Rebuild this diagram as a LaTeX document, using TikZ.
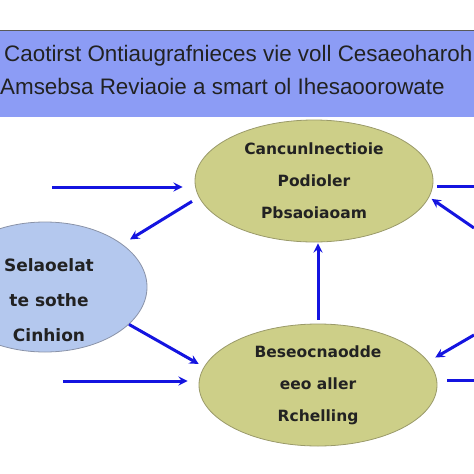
\documentclass[tikz,border=0pt]{standalone}
\usepackage{fontspec}
\setmainfont{DejaVu Sans}
\newfontfamily\bannerfont{Liberation Sans}
\usepackage{xcolor}
\usetikzlibrary{arrows,calc,shapes.geometric}
\definecolor{bannerblue}{HTML}{8C9CF5}
\definecolor{olivefill}{HTML}{CDCF88}
\definecolor{oliveline}{HTML}{9A9A6A}
\definecolor{skyfill}{HTML}{B4C8EE}
\definecolor{skyline}{HTML}{8A93A8}
\definecolor{flowblue}{HTML}{1414E0}
\definecolor{inkgray}{HTML}{222222}
\tikzset{
	stage/.style={
			ellipse, draw=oliveline, fill=olivefill, line width=0.8pt,
			minimum width=238pt, minimum height=122pt, inner sep=0pt,
			align=center, text=inkgray, font=\bfseries\fontsize{15.5}{32}\selectfont
		},
	flow/.style={draw=flowblue, line width=3pt, -stealth},
	flowline/.style={draw=flowblue, line width=3pt}
}

\begin{document}
\begin{tikzpicture}[x=1pt,y=-1pt]
    \useasboundingbox (0,0) rectangle (474,474);
    % banner
    \filldraw[fill=bannerblue, draw=none] (0,30) rectangle (474,117);
    \draw[gray!70!black, line width=1pt] (0,30) -- (474,30);
    \node[anchor=west, inner sep=0pt, text=inkgray, font=\bannerfont\fontsize{22.4}{22}\selectfont] (title1) at (4,56)
        {Caotirst Ontiaugrafnieces vie voll Cesaeoharoh};
    \node[anchor=west, inner sep=0pt, text=inkgray, font=\bannerfont\fontsize{22.4}{22}\selectfont] (title2) at (0,86)
        {Amsebsa Reviaoie a smart ol Ihesaoorowate};
    % ellipses
    \node[stage] (top) at (314,181) {Cancunlnectioie\\Podioler\\Pbsaoiaoam};
    \node[stage, draw=skyline, fill=skyfill, minimum width=204pt, minimum height=130pt] (left) at (45,287) {};
    \node[align=center, text=inkgray, font=\bfseries\fontsize{17}{35}\selectfont] (lefttext) at (49,300) {Selaoelat\\te sothe\\Cinhion};
    \node[stage] (bottom) at (318,385) {Beseocnaodde\\eeo aller\\Rchelling};
    % free ends
    \coordinate (in1) at (52,187);
    \coordinate (in2) at (63,381);
    \coordinate (in3) at (474,228);
    \coordinate (in4) at (474,335);
    \coordinate (out1) at (474,186);
    \coordinate (out2) at (474,380);
    % arrows
    \draw[flow, shorten >=12pt] (in1) -- (in1 -| top.west);
    \draw[flow, shorten <=8pt, shorten >=9pt] (top.188) -- (left.29);
    \draw[flow, shorten >=6pt] (left.-24) -- (bottom.171);
    \draw[flow, shorten >=11pt] (in2) -- (in2 -| bottom.west);
    \draw[flow, shorten <=4pt, shorten >=1pt] (bottom.north) -- (bottom.north |- top.south);
    \draw[flowline, shorten <=4pt] (out1 -| top.east) -- (out1);
    \draw[flow, shorten >=3pt] (in3) -- (top.-8);
    \draw[flow, shorten >=8pt] (in4) -- (bottom.12);
    \draw[flowline, shorten <=10pt] (out2 -| bottom.east) -- (out2);
\end{tikzpicture}
\end{document}
